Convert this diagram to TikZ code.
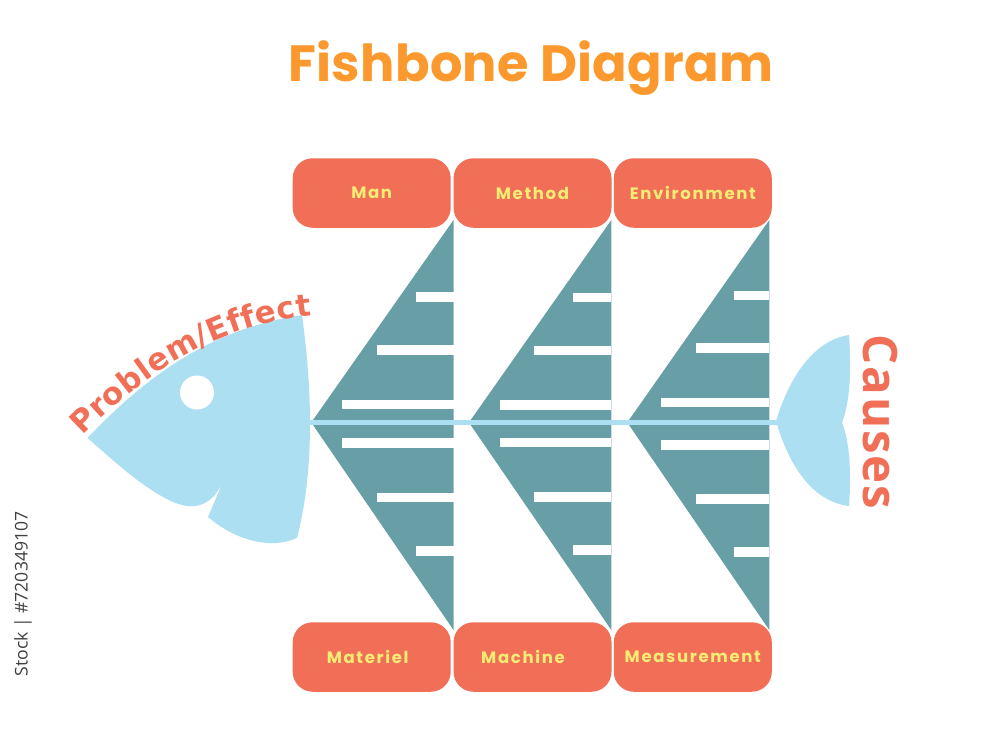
\documentclass[tikz,border=0pt]{standalone}
\usepackage{fontspec}
\setmainfont{Poppins}
\newfontfamily\titlefont[LetterSpace=0.6]{Poppins}
\newfontfamily\boxfont[LetterSpace=10]{Poppins}
\newfontfamily\labelfont{DejaVu Sans}
\newfontfamily\sidefont[LetterSpace=4]{Open Sans}
\newfontfamily\stockfont{Open Sans}
\usetikzlibrary{decorations.text}
\definecolor{coral}{HTML}{F26F57}
\definecolor{titleorange}{HTML}{FC992E}
\definecolor{paleyellow}{HTML}{F4EC74}
\definecolor{teal}{HTML}{689FA6}
\definecolor{skyblue}{HTML}{ADDFF2}
\tikzset{
    catbox/.style={draw=none, fill=coral, rounded corners=20*0.02cm, minimum width=158*0.02cm, minimum height=69.5*0.02cm, inner sep=0pt, text=paleyellow, font=\boxfont\bfseries\fontsize{9.4}{11}\selectfont},
    bone/.style={fill=white, draw=none},
    fin/.style={fill=skyblue, draw=none},
}
\begin{document}
\begin{tikzpicture}[x=0.02cm, y=-0.02cm]

    \useasboundingbox (0,0) rectangle (1000,750);

    % Title
    \node[text=titleorange, font=\titlefont\bfseries\fontsize{29}{32}\selectfont] (title) at (531,68) {Fishbone Diagram};

    % Bones, one fish rib per column
    \foreach \x/\apex/\wa/\wb/\wc/\ya/\yb/\yc/\yd/\ye/\yf in {
        453.5/312.3/38/77/111.5/292/345.3/399.7/438.3/492.7/546,
        611.3/470/38/77/111.3/292.7/345.7/400.3/437.7/492/545.3,
        769.3/628.3/35/73.5/108.3/290.7/343.3/397.7/440/494.3/547.3} {
        \fill[teal] (\apex,421) -- (\x,220) -- (\x,421) -- cycle;
        \fill[teal] (\apex,424) -- (\x,630) -- (\x,424) -- cycle;
        \foreach \w/\yt in {\wa/\ya,\wb/\yb,\wc/\yc,\wc/\yd,\wb/\ye,\wa/\yf} {
            \fill[bone] (\x-\w,\yt) rectangle (\x,\yt+9.7);
        }
    }

    % Head and tail
    \fill[fin] (87.5,438) .. controls (150,372) and (215,328) .. (302,315)
        .. controls (311,380) and (316,465) .. (297,538)
        .. controls (270,550) and (235,540) .. (208,517)
        -- (225,477) .. controls (212,510) and (190,512) .. (165,498)
        .. controls (140,485) and (115,462) .. (87.5,438) -- cycle;
    \fill[white] (197,392.5) circle (17);
    \fill[fin] (849,335) .. controls (815,340) and (790,375) .. (776,421)
        .. controls (790,470) and (815,502) .. (849,506)
        .. controls (851,480) and (851,445) .. (842,422.5)
        .. controls (851,400) and (851,365) .. (849,335) -- cycle;

    % Spine
    \coordinate (head) at (310,422.5);
    \coordinate (tail) at (780,422.5);
    \draw[skyblue, line width=5*0.02cm] (head) -- (tail);

    % Category boxes
    \node[catbox] (man) at (371.7,193) {Man};
    \node[catbox] (method) at (532.5,193) {Method};
    \node[catbox] (environment) at (692.8,193) {Environment};
    \node[catbox] (materiel) at (371.7,657) {\hspace*{-0.16cm}Materiel};
    \node[catbox] (machine) at (532.5,657) {\hspace*{-0.38cm}Machine};
    \node[catbox] (measurement) at (692.8,657) {Measurement};

    % Side labels
    \path[postaction={decorate, decoration={text along path, text align={fit to path}, raise=1pt, text={|\labelfont\bfseries\fontsize{17.5}{20}\selectfont\color{coral}|Problem/Effect}}}]
        (84,437) .. controls (150,372) and (215,328) .. (312,317);
    \node[rotate=-90, text=coral, font=\sidefont\bfseries\fontsize{27}{30}\selectfont] (causes) at (880,422) {Causes};
    \node[rotate=90, text=black!75, font=\stockfont\fontsize{10}{11}\selectfont] (stockid) at (23,594) {Stock | \#720349107};

\end{tikzpicture}
\end{document}
